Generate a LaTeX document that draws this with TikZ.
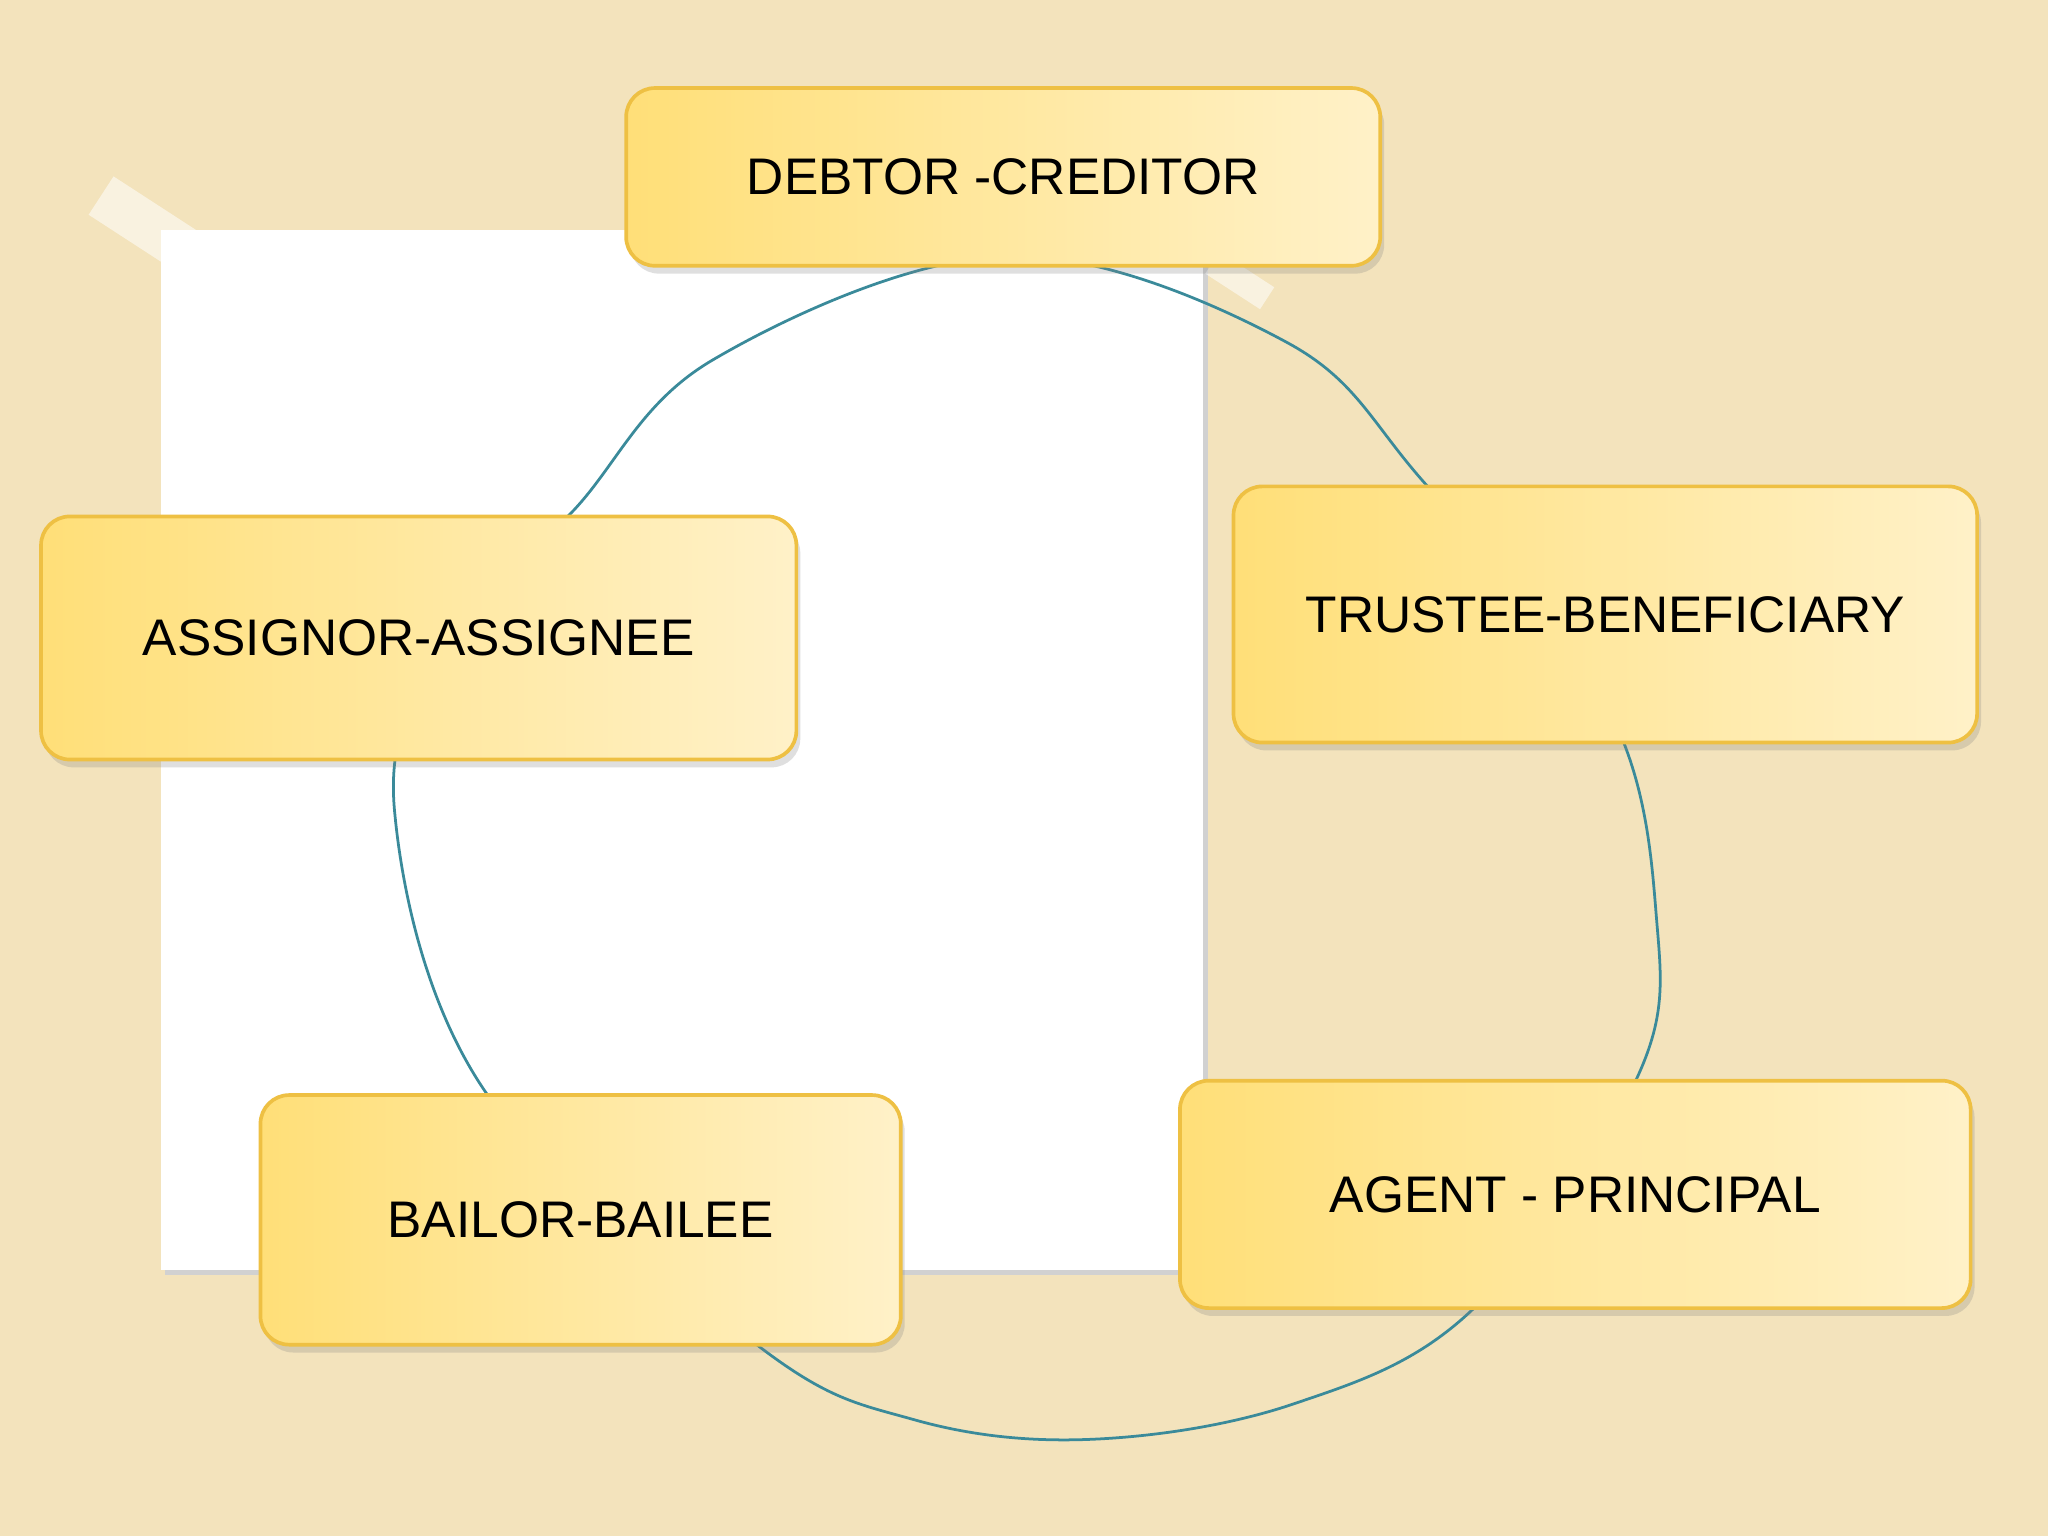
\documentclass[tikz,border=0pt]{standalone}
\usepackage{fontspec}
\setmainfont{Liberation Sans}
\usetikzlibrary{shadows}
\definecolor{bg}{HTML}{F3E3BC}
\definecolor{boxa}{HTML}{FFDF78}
\definecolor{boxb}{HTML}{FFF1C8}
\definecolor{boxline}{HTML}{EEC043}
\definecolor{ring}{HTML}{3A8A9A}
\tikzset{
  box/.style={draw=boxline, line width=0.8pt, rounded corners=0.22cm,
    left color=boxa, right color=boxb, anchor=north west, inner sep=0pt,
    font=\fontsize{11.2}{13}\selectfont, text=black,
    drop shadow={shadow xshift=0.3mm, shadow yshift=-0.6mm, opacity=0.25}},
  tape/.style={fill=white, opacity=0.55}
}
\begin{document}
\begin{tikzpicture}[x=0.01cm,y=-0.01cm]
\fill[bg] (0,0) rectangle (1568,1176);
\useasboundingbox (0,0) rectangle (1568,1176);
% paper
\fill[black!18] (126,180) rectangle (925,976);
\fill[white] (123,176) rectangle (921,972);
\fill[tape, rotate around={-33:(128,182)}] (68,165) rectangle (188,200);
\fill[tape, rotate around={-33:(945,212)}] (925,202) rectangle (975,222);
% ring
\draw[ring, line width=0.6pt] plot[smooth cycle, tension=0.6] coordinates {
  (770,196) (985,262) (1090,369) (1230,540) (1268,700) (1253,826) (1127,1003)
  (990,1075) (835,1102) (700,1087) (580,1030) (371,835) (302,620) (340,490)
  (438,392) (545,276)};
% boxes
\node[box, minimum width=5.77cm, minimum height=1.36cm] (dc) at (478,66) {DEBTOR -CREDITOR};
\node[box, minimum width=5.69cm, minimum height=1.96cm] (tb) at (943,371) {TRUSTEE-BENEFICIARY};
\node[box, minimum width=6.05cm, minimum height=1.74cm] (ap) at (902,826) {AGENT - PRINCIPAL};
\node[box, minimum width=4.90cm, minimum height=1.91cm] (bb) at (198,837) {BAILOR-BAILEE};
\node[box, minimum width=5.78cm, minimum height=1.86cm] (aa) at (30,394) {ASSIGNOR-ASSIGNEE};
\end{tikzpicture}
\end{document}
